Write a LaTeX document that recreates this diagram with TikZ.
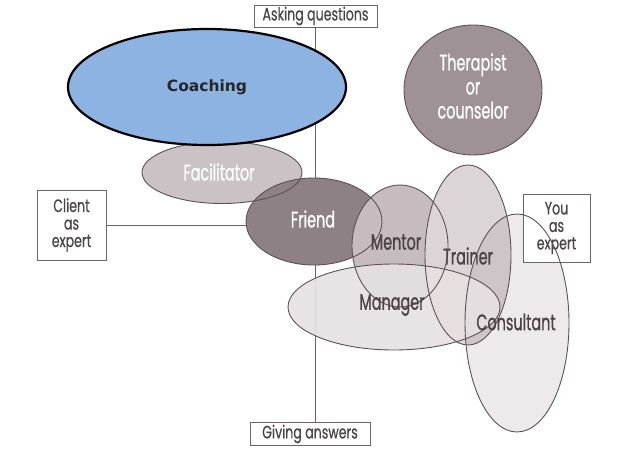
\documentclass[tikz,border=0pt]{standalone}
\usepackage{fontspec}
\setmainfont{Poppins}[FakeStretch=0.64, FakeBold=0.8]
\newfontfamily\boxfont{Poppins}[FakeStretch=0.7, FakeBold=0.6]
\newfontfamily\coachfont{DejaVu Sans}
\usetikzlibrary{shapes.geometric}
\pgfdeclarelayer{background}
\pgfsetlayers{background,main}
\definecolor{coachfill}{HTML}{8DB3E2}
\definecolor{therfill}{HTML}{9E9296}
\definecolor{facfill}{HTML}{CAC2C4}
\definecolor{frfill}{HTML}{8E8185}
\definecolor{menfill}{HTML}{C6BCBF}
\definecolor{trfill}{HTML}{DCD5D7}
\definecolor{manfill}{HTML}{E6E1E2}
\definecolor{confill}{HTML}{EEEAEB}
\definecolor{tcfill}{HTML}{CDC5C8}
\definecolor{bord}{HTML}{5E5056}
\definecolor{boxline}{HTML}{6A6668}
\definecolor{boxtext}{HTML}{4A4648}
\definecolor{darklab}{HTML}{4B4246}
\begin{document}
\begin{tikzpicture}[x=1pt,y=-1pt,
  blob/.style={ellipse, inner sep=0pt},
  coachshape/.style={blob, minimum width=278pt, minimum height=116pt},
  thershape/.style={blob, minimum width=138pt, minimum height=130pt},
  facshape/.style={blob, minimum width=160pt, minimum height=62pt},
  frshape/.style={blob, minimum width=136pt, minimum height=87pt},
  menshape/.style={blob, minimum width=96pt, minimum height=122pt},
  trshape/.style={blob, minimum width=86pt, minimum height=180pt},
  manshape/.style={blob, minimum width=212pt, minimum height=86pt},
  conshape/.style={blob, minimum width=104pt, minimum height=218pt},
  outline/.style={draw=bord, line width=0.9pt},
  labbox/.style={draw=boxline, line width=0.9pt, fill=white, text=boxtext,
    align=center, inner sep=0pt, font=\boxfont\fontsize{18}{17.5}\selectfont},
  lab/.style={inner sep=0pt, align=center, font=\fontsize{22.5}{24}\selectfont},
  whitelab/.style={lab, text=white},
  darklab/.style={lab, text=darklab},
  axis/.style={draw=boxline, line width=0.8pt}
]
\useasboundingbox (0,0) rectangle (631,452);
% boxes
\node[labbox, minimum width=123pt, minimum height=22pt] (asking) at (315.5,16) {Asking questions};
\node[labbox, minimum width=120pt, minimum height=23pt] (giving) at (310,434) {Giving answers};
\node[labbox, minimum width=69pt, minimum height=70pt] (client) at (71.5,225) {Client\\as\\expert};
% ellipse fills
\node[facshape, fill=facfill] (fac) at (222,172.5) {};
\node[frshape, fill=frfill] (friend) at (314,221.5) {};
\node[menshape, fill=menfill] (mentor) at (400,246) {};
\node[trshape, fill=trfill] (trainer) at (468,255) {};
\node[conshape, fill=confill] (consultant) at (517,323) {};
\begin{scope}
  \clip (468,255) ellipse [x radius=43, y radius=90];
  \fill[tcfill] (517,323) ellipse [x radius=52, y radius=109];
\end{scope}
\node[manshape, fill=manfill, fill opacity=0.9] (manager) at (394,307) {};
\node[thershape, fill=therfill] (therapist) at (473,90) {};
\node[labbox, minimum width=67pt, minimum height=68pt] (you) at (556.5,228) {You\\as\\expert};
% axes behind everything
\begin{pgfonlayer}{background}
  \draw[axis] (asking.south) -- (asking.south |- giving.north);
  \draw[axis] (client.east) -- (client.east -| friend.west);
\end{pgfonlayer}
% outlines
\node[facshape, outline] at (fac) {};
\node[frshape, outline] at (friend) {};
\node[menshape, outline] at (mentor) {};
\node[trshape, outline] at (trainer) {};
\node[manshape, outline] at (manager) {};
\node[conshape, outline] at (consultant) {};
\node[thershape, outline] at (therapist) {};
% coaching on top
\node[coachshape, fill=coachfill, draw=black, line width=2.2pt] (coaching) at (207,87) {};
% labels
\node[inner sep=0pt, font=\coachfont\bfseries\fontsize{15.5}{18}\selectfont, text=black!85] (coachlab) at (coaching) {Coaching};
\node[whitelab] (therlab) at (473,86) {Therapist\\or\\counselor};
\node[whitelab] (faclab) at (219,172) {Facilitator};
\node[whitelab] (frlab) at (313,219) {Friend};
\node[darklab] (menlab) at (396,242) {Mentor};
\node[darklab] (trlab) at (468,256) {Trainer};
\node[darklab] (manlab) at (392,305) {Manager};
\node[darklab] (conlab) at (516,322) {Consultant};
\end{tikzpicture}
\end{document}
